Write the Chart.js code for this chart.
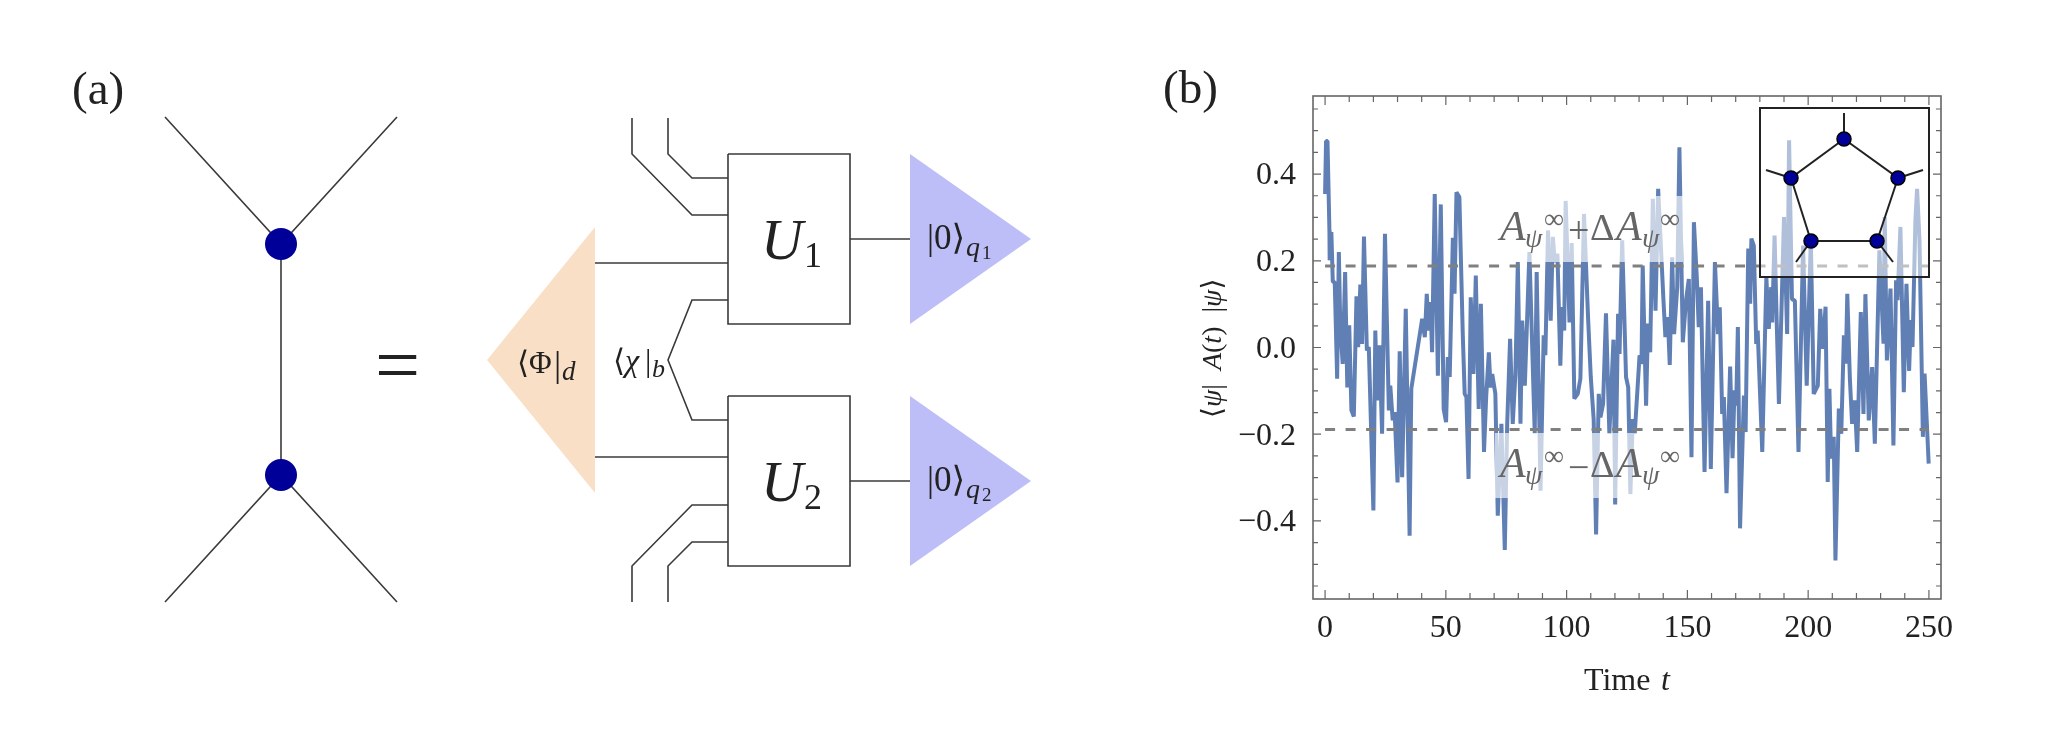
<!DOCTYPE html>
<html>
<head>
<meta charset="utf-8">
<title>Tensor network and time trace</title>
<script src="https://cdn.jsdelivr.net/npm/chart.js@4"></script>
<style>
    html, body { margin: 0; padding: 0; background: #fff; }
    canvas { display: block; }
</style>
</head>
<body>
<canvas id="chart" width="2048" height="751"></canvas>
<script>
// panel (b): values
const times = [0,0.4,1,1.8,1.9,2.6,3.2,4,5,5.7,6.3,7.3,8.3,9.2,10,10.9,11.9,13,13.7,14.6,15.3,16.1,17.3,18.1,20,20.8,21.5,22.5,23.6,24.8,26.4,27,28,28.8,30,30.9,31.9,33.4,35,35.7,
    40.2,41.3,42.1,42.9,43.6,44.3,45.4,46.7,47.9,49.1,50.1,50.8,51.6,52.9,53.6,54.4,55.6,57,57.8,58.5,59.4,60.3,61.4,62.4,63.6,64.5,65.8,66.7,67.8,68.5,69.2,70.5,71.5,73,74.4,75.4,76.6,77.7,78.8,79.8,80.9,
    81.6,82.7,84.6,86.8,87.6,89.2,90.5,91.2,92.3,93.4,94.3,95.1,96.2,97.4,98.1,99,99.6,101.2,102.1,103.2,104.6,105.7,107.2,108.9,110,111.2,112.2,113.3,114,115.1,116.3,117.7,119.4,120.1,121.3,121.9,
    123,124.6,125.5,126.4,127.4,128.2,130.2,131,131.5,132.9,133.7,134.6,135.7,136.8,137.9,140.1,140.9,141.9,142.7,143.7,144.5,145.8,146.7,148.1,149.5,150.6,151.7,152.7,153.9,154.7,155.6,157.1,158.6,159.7,161.4,162.7,163.4,164.4,
    165.1,166.2,167.7,168.7,169.5,170.2,170.9,171.8,173.4,174.1,175.2,176,176.5,177.5,178.5,179.1,181,182.7,183.7,184.7,185.1,186.1,187,187.9,190,191.3,192.1,193.3,194.5,196,197.9,199.4,201.1,202.3,204,205,
    206.1,207.2,208.1,208.8,209.5,210.6,211.3,212.7,213.7,214.8,215.6,216.2,217.3,218.2,219.3,220.3,221.8,222.9,223.7,225.1,226.5,227.6,229.5,231.2,231.7,232.6,234.1,235.3,236.4,237,238.2,239.6,240.7,241.8,242.5,243.2,244.4,245.1,246.1,247.5,248.2,249.9];
const expectation = [.354,.476,.476,.270,.201,.266,.151,.151,-.072,.220,.047,-.038,.174,-.092,.051,-.145,-.159,.118,.001,.145,.008,.256,-.007,.001,-.376,.039,-.122,.005,-.199,.262,-.145,-.088,-.168,-.149,-.311,-.009,-.299,.089,-.434,-.095,
    .066,.024,.124,.039,.105,-.011,.354,-.065,.330,-.142,-.172,-.022,-.068,.253,.124,.358,.347,.032,-.107,-.114,-.303,.116,-.061,.166,-.142,.101,-.241,-.114,-.011,-.092,-.061,-.107,-.388,-.176,-.467,-.176,.020,-.176,-.061,.197,-.176,
    .062,-.088,.220,-.198,.174,-.330,.028,-.018,.270,.062,.255,.197,.216,-.042,.093,.039,.338,.058,.241,-.118,-.107,-.072,.308,.066,-.068,-.165,-.431,-.107,-.161,-.130,.079,-.199,.018,-.362,.078,-.015,
    .247,-.068,-.092,-.338,-.165,-.199,-.018,-.038,.189,-.134,.055,-.011,.343,.085,.366,.108,.024,.070,-.040,.208,.031,.139,.462,.012,.112,.158,-.253,.289,.162,.047,.139,-.287,.108,-.280,.197,.031,.093,-.153,
    -.114,-.336,-.044,-.255,-.099,-.134,.047,-.417,-.111,-.195,.228,.101,.251,.235,.008,.039,-.241,.162,.043,.139,.058,.258,.055,-.130,.301,.031,.478,.112,.108,-.241,.235,-.088,.247,-.107,-.088,.089,
    -.003,.094,-.310,-.095,-.256,-.206,-.491,-.141,-.199,.028,-.037,.124,-.076,-.176,-.122,-.241,.082,-.153,.123,-.168,-.045,-.222,.224,.009,.301,-.030,.136,-.226,.155,.109,.278,-.103,.147,-.054,.063,.001,.293,.366,.247,-.206,-.060,-.268];
const upperLevel = 0.188;
const lowerLevel = -0.189;
const levelSpan = [0, 250];
const xTickLabels = [0, 50, 100, 150, 200, 250];
const yTickLabels = [-0.4, -0.2, 0, 0.2, 0.4];
const xMinorTicks = [0,10,20,30,40,50,60,70,80,90,100,110,120,130,140,150,160,170,180,190,200,210,220,230,240,250];
const yMinorTicks = [-0.55,-0.5,-0.45,-0.4,-0.35,-0.3,-0.25,-0.2,-0.15,-0.1,-0.05,0,0.05,0.1,0.15,0.2,0.25,0.3,0.35,0.4,0.45,0.5,0.55];

// schematic parts, in picture units of the hidden sx/sy scales
const wires = [
    [[165,117],[281,244],[397,117]],
    [[281,244],[281,475]],
    [[165,602],[281,475],[397,602]],
    [[728,154],[850,154],[850,324],[728,324],[728,154]],
    [[728,396],[850,396],[850,566],[728,566],[728,396]],
    [[632,118],[632,154],[692,215],[728,215]],
    [[668,118],[668,154],[692,178],[728,178]],
    [[595,263],[728,263]],
    [[728,300],[692,300],[668,360],[692,420],[728,420]],
    [[595,457],[728,457]],
    [[728,505],[692,505],[632,566],[632,602]],
    [[728,542],[692,542],[668,566],[668,602]],
    [[850,239],[910,239]],
    [[850,481],[910,481]]
];
const vertexNodes = [[281,244],[281,475]];
const insetLines = [
    [[1844,113],[1844,139]],
    [[1844,139],[1898,178],[1877,241],[1811,241],[1791,178],[1844,139]],
    [[1898,178],[1923,170]],
    [[1877,241],[1893,262]],
    [[1811,241],[1796,262]],
    [[1791,178],[1766,170]]
];
const insetNodes = [[1844,139],[1898,178],[1877,241],[1811,241],[1791,178]];
const orangeWedge = [[487,360],[595,227],[595,493]];
const purpleWedges = [[[910,154],[1031,239],[910,324]], [[910,396],[1031,481],[910,566]]];
const labelHalos = [[1500,196,1683,262], [1495,433,1683,498]];
const insetBox = [1760,108,1929,277];

const SERIF = '"Liberation Serif", "DejaVu Serif", serif';
const DARK = '#222222';
const SOFT = '#666666';
// [text, x, baseline y, font, colour]
const panelTexts = [
    ['(a)', 72, 104, '47px ' + SERIF, DARK],
    ['(b)', 1163, 103, '47px ' + SERIF, DARK],
    ['=', 375, 392, '80px ' + SERIF, DARK],
    ['\u27E8', 517, 373, '31px ' + SERIF, DARK],
    ['\u03A6', 529, 373, '31px ' + SERIF, DARK],
    ['|', 554, 376, '36px ' + SERIF, DARK],
    ['d', 562, 380, 'italic 27px ' + SERIF, DARK],
    ['\u27E8', 613, 371, '31px ' + SERIF, DARK],
    ['\u03C7', 625, 371, 'italic 32px ' + SERIF, DARK],
    ['|', 645, 371, '32px ' + SERIF, DARK],
    ['b', 652, 377, 'italic 26px ' + SERIF, DARK],
    ['U', 761, 259, 'italic 58px ' + SERIF, DARK],
    ['1', 804, 267, '36px ' + SERIF, DARK],
    ['U', 761, 501, 'italic 58px ' + SERIF, DARK],
    ['2', 804, 509, '36px ' + SERIF, DARK],
    ['|0\u27E9', 927, 249, '35px ' + SERIF, DARK],
    ['q', 966, 256, 'italic 28px ' + SERIF, DARK],
    ['1', 982, 259, '19px ' + SERIF, DARK],
    ['|0\u27E9', 927, 491, '35px ' + SERIF, DARK],
    ['q', 966, 498, 'italic 28px ' + SERIF, DARK],
    ['2', 982, 501, '19px ' + SERIF, DARK],
    ['Time', 1584, 690, '32px ' + SERIF, DARK],
    ['t', 1661, 690, 'italic 32px ' + SERIF, DARK],
    ['A', 1500, 240, 'italic 42px ' + SERIF, SOFT],
    ['\u03C8', 1525, 247, 'italic 28px ' + SERIF, SOFT],
    ['\u221E', 1544, 228, '28px ' + SERIF, SOFT],
    ['+', 1568, 243, '38px ' + SERIF, SOFT],
    ['\u0394', 1590, 240, '38px ' + SERIF, SOFT],
    ['A', 1616, 240, 'italic 42px ' + SERIF, SOFT],
    ['\u03C8', 1642, 247, 'italic 28px ' + SERIF, SOFT],
    ['\u221E', 1660, 228, '28px ' + SERIF, SOFT],
    ['A', 1500, 477, 'italic 42px ' + SERIF, SOFT],
    ['\u03C8', 1525, 484, 'italic 28px ' + SERIF, SOFT],
    ['\u221E', 1544, 465, '28px ' + SERIF, SOFT],
    ['\u2212', 1568, 480, '38px ' + SERIF, SOFT],
    ['\u0394', 1590, 477, '38px ' + SERIF, SOFT],
    ['A', 1616, 477, 'italic 42px ' + SERIF, SOFT],
    ['\u03C8', 1642, 484, 'italic 28px ' + SERIF, SOFT],
    ['\u221E', 1660, 465, '28px ' + SERIF, SOFT]
];
// rotated y title, runs laid out along the axis
const yTitleRuns = [
    ['\u27E8', '28px ' + SERIF], ['\u03C8', 'italic 28px ' + SERIF], ['|  ', '28px ' + SERIF],
    ['A', 'italic 28px ' + SERIF], ['(', '28px ' + SERIF], ['t', 'italic 28px ' + SERIF], [')  |', '28px ' + SERIF],
    ['\u03C8', 'italic 28px ' + SERIF], ['\u27E9', '28px ' + SERIF]
];

const toPoints = list => list.map(p => ({x: p[0], y: p[1]}));

const wireDataset = (list, color, width) => ({
    data: toPoints(list),
    xAxisID: 'sx',
    yAxisID: 'sy',
    borderColor: color,
    borderWidth: width,
    pointRadius: 0,
    clip: false
});

const nodeDataset = (list, radius) => ({
    data: toPoints(list),
    xAxisID: 'sx',
    yAxisID: 'sy',
    showLine: false,
    pointRadius: radius,
    pointBackgroundColor: '#000099',
    pointBorderColor: '#000000',
    pointBorderWidth: 1.5,
    clip: false
});

const levelDataset = value => ({
    data: levelSpan.map(t => ({x: t, y: value})),
    borderColor: '#808080',
    borderWidth: 3,
    borderDash: [10, 10.5],
    pointRadius: 0,
    clip: false
});

const rectPath = (ctx, sx, sy, box) => {
    const left = sx.getPixelForValue(box[0]);
    const top = sy.getPixelForValue(box[1]);
    ctx.rect(left, top, sx.getPixelForValue(box[2]) - left, sy.getPixelForValue(box[3]) - top);
};

const fillPolygon = (ctx, sx, sy, list, color) => {
    ctx.beginPath();
    list.forEach((p, i) => {
        const px = sx.getPixelForValue(p[0]);
        const py = sy.getPixelForValue(p[1]);
        if (i) ctx.lineTo(px, py); else ctx.moveTo(px, py);
    });
    ctx.closePath();
    ctx.fillStyle = color;
    ctx.fill();
};

// datasets are drawn last to first, so the order below is top to bottom
const datasets = [];
datasets.push(nodeDataset(insetNodes, 7));
insetLines.forEach(l => datasets.push(wireDataset(l, '#222222', 2)));
const overlayIndex = datasets.length;
datasets.push(levelDataset(upperLevel));
datasets.push(levelDataset(lowerLevel));
datasets.push({
    data: times.map((t, i) => ({x: t, y: expectation[i]})),
    borderColor: '#6080b5',
    borderWidth: 4,
    borderJoinStyle: 'bevel',
    pointRadius: 0,
    clip: false
});
wires.forEach(l => datasets.push(wireDataset(l, '#3a3a3a', 1.6)));

const panelPlugin = {
    id: 'panelPlugin',
    beforeDatasetsDraw(chart) {
        const {ctx, scales: {sx, sy}} = chart;
        ctx.save();
        fillPolygon(ctx, sx, sy, orangeWedge, '#f9dfc5');
        purpleWedges.forEach(w => fillPolygon(ctx, sx, sy, w, '#bdbdf7'));
        ctx.restore();
    },
    // veils over the trace sit between the trace and the inset drawing
    afterDatasetDraw(chart, args) {
        if (args.index !== overlayIndex + 2) return;
        const {ctx, scales: {sx, sy}} = chart;
        ctx.save();
        ctx.fillStyle = 'rgba(255,255,255,0.65)';
        labelHalos.forEach(box => {
            ctx.beginPath();
            rectPath(ctx, sx, sy, box);
            ctx.fill();
        });
        ctx.restore();
    },
    beforeDatasetDraw(chart, args) {
        if (args.index !== overlayIndex - 1) return;
        const {ctx, scales: {sx, sy}} = chart;
        ctx.save();
        ctx.beginPath();
        rectPath(ctx, sx, sy, insetBox);
        ctx.fillStyle = 'rgba(255,255,255,0.5)';
        ctx.fill();
        ctx.strokeStyle = '#222222';
        ctx.lineWidth = 2;
        ctx.stroke();
        ctx.restore();
    },
    afterDraw(chart) {
        const {ctx, chartArea: area, scales: {x, y, sx, sy}} = chart;
        ctx.save();
        // point elements outside the chart area are not drawn by the library
        ctx.fillStyle = '#000099';
        vertexNodes.forEach(p => {
            ctx.beginPath();
            ctx.arc(sx.getPixelForValue(p[0]), sy.getPixelForValue(p[1]), 16, 0, 2 * Math.PI);
            ctx.fill();
        });

        // frame ticks point inward on all four sides
        ctx.strokeStyle = '#666666';
        ctx.lineWidth = 1.2;
        ctx.beginPath();
        xMinorTicks.forEach(t => {
            const len = xTickLabels.includes(t) ? 9 : 6;
            const px = x.getPixelForValue(t);
            ctx.moveTo(px, area.top); ctx.lineTo(px, area.top + len);
            ctx.moveTo(px, area.bottom); ctx.lineTo(px, area.bottom - len);
        });
        yMinorTicks.forEach(v => {
            const len = yTickLabels.includes(v) ? 8 : 5;
            const py = y.getPixelForValue(v);
            ctx.moveTo(area.left, py); ctx.lineTo(area.left + len, py);
            ctx.moveTo(area.right, py); ctx.lineTo(area.right - len, py);
        });
        ctx.stroke();
        ctx.lineWidth = 1.6;
        ctx.strokeRect(area.left, area.top, area.right - area.left, area.bottom - area.top);

        ctx.textAlign = 'left';
        ctx.textBaseline = 'alphabetic';
        panelTexts.forEach(([text, tx, ty, font, color]) => {
            ctx.font = font;
            ctx.fillStyle = color;
            ctx.fillText(text, sx.getPixelForValue(tx), sy.getPixelForValue(ty));
        });

        ctx.translate(sx.getPixelForValue(1221), sy.getPixelForValue(418));
        ctx.rotate(-Math.PI / 2);
        ctx.fillStyle = DARK;
        let along = 0;
        yTitleRuns.forEach(([text, font]) => {
            ctx.font = font;
            ctx.fillText(text, along, 0);
            along += ctx.measureText(text).width;
        });
        ctx.restore();
    }
};

new Chart(document.getElementById('chart'), {
    type: 'line',
    data: {datasets},
    plugins: [panelPlugin],
    options: {
        responsive: false,
        animation: false,
        devicePixelRatio: 1,
        elements: {line: {tension: 0}},
        layout: {padding: {left: 1213, top: 96, right: 107, bottom: 102}},
        plugins: {legend: {display: false}, tooltip: {enabled: false}},
        scales: {
            x: {
                type: 'linear',
                min: -5,
                max: 255,
                afterFit(scale) { scale.height = 50; },
                afterBuildTicks(scale) { scale.ticks = xTickLabels.map(value => ({value})); },
                grid: {display: false},
                border: {display: false},
                ticks: {
                    autoSkip: false,
                    maxRotation: 0,
                    padding: 2,
                    color: DARK,
                    font: {family: 'Liberation Serif', size: 32}
                }
            },
            y: {
                type: 'linear',
                min: -0.58,
                max: 0.58,
                afterFit(scale) { scale.width = 100; },
                afterBuildTicks(scale) { scale.ticks = yTickLabels.map(value => ({value})); },
                grid: {display: false},
                border: {display: false},
                ticks: {
                    autoSkip: false,
                    padding: 9,
                    labelOffset: 2,
                    color: DARK,
                    font: {family: 'Liberation Serif', size: 32},
                    callback: v => v.toFixed(1).replace('-', '\u2212')
                }
            },
            // set after the data limits: user min/max would make the line controller cull off-range points
            sx: {
                type: 'linear',
                display: false,
                bounds: 'data',
                afterDataLimits(scale) { scale.min = 1313; scale.max = 1941; }
            },
            sy: {
                type: 'linear',
                display: false,
                reverse: true,
                bounds: 'data',
                afterDataLimits(scale) { scale.min = 96; scale.max = 599; }
            }
        }
    }
});
</script>
</body>
</html>
